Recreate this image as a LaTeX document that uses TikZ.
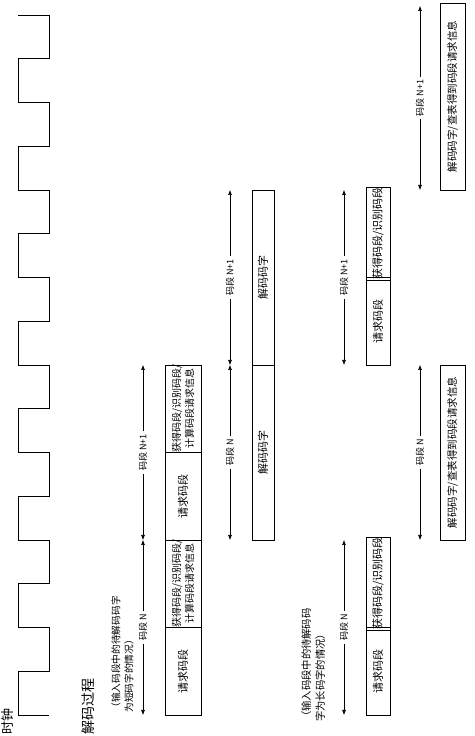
\documentclass[tikz,border=0pt]{standalone}
\usepackage{fontspec}
\setmainfont{Noto Sans CJK SC}
\usetikzlibrary{arrows.meta}

\begin{document}
\begin{tikzpicture}[x=1pt,y=1pt,line width=0.6pt,
  blk/.style={draw,rotate=90,inner sep=0pt,align=center,font=\fontsize{11}{13}\selectfont},
  seg/.style={{Latex[length=5pt,width=4pt]}-{Latex[length=5pt,width=4pt]}},
  seglab/.style={fill=white,rotate=90,inner sep=3pt,font=\fontsize{9}{10}\selectfont},
  note/.style={rotate=90,inner sep=0pt,align=left,font=\fontsize{9.7}{13}\selectfont}]
\useasboundingbox (0,0) rectangle (474,736);
% Drawing clock
\draw (18,721) \foreach \k in {0,...,7} { -- ++(31,0) -- ++(0,-43.75) -- ++(-31,0) -- ++(0,-43.75) } -- ++(31,0);
\node[rotate=90,anchor=west,inner sep=0pt,font=\fontsize{13}{15}\selectfont] (clk) at (8,1) {时钟};
\node[rotate=90,anchor=west,inner sep=0pt,font=\fontsize{14}{16}\selectfont] (title) at (88,1) {解码过程};
% Short codeword case: fetch column
\node[note,anchor=north west] (note1) at (111,23) {（输入码段中的待解码码字\\为短码字的情况）};
\node[blk,minimum width=87.5pt,minimum height=36pt] (c1a) at (183,64.75) {请求码段};
\node[blk,minimum width=87.5pt,minimum height=36pt,font=\fontsize{10}{13}\selectfont] (c1b) at (183,152.25) {获得码段/识别码段/\\计算码段请求信息};
\node[blk,minimum width=87.5pt,minimum height=36pt] (c1c) at (183,239.75) {请求码段};
\node[blk,minimum width=87.5pt,minimum height=36pt,font=\fontsize{10}{13}\selectfont] (c1d) at (183,327.25) {获得码段/识别码段/\\计算码段请求信息};
\coordinate (p1a) at (143,21);
\coordinate (p1b) at (143,196);
\coordinate (p1c) at (143,371);
\draw[seg] (p1a) -- node[seglab] {码段 N} (p1b);
\draw[seg] (p1b) -- node[seglab] {码段 N+1} (p1c);
% Short codeword case: decode column
\node[blk,minimum width=175pt,minimum height=22pt] (c2a) at (263,283.5) {解码码字};
\node[blk,minimum width=175pt,minimum height=22pt] (c2b) at (263,458.5) {解码码字};
\coordinate (p2a) at (230,196);
\coordinate (p2b) at (230,371);
\coordinate (p2c) at (230,546);
\draw[seg] (p2a) -- node[seglab] {码段 N} (p2b);
\draw[seg] (p2b) -- node[seglab] {码段 N+1} (p2c);
% Long codeword case: fetch column
\node[note,anchor=north west,font=\fontsize{10.3}{14}\selectfont] (note2) at (301,14) {（输入码段中的待解码码\\字为长码字的情况）};
\node[blk,minimum width=87.5pt,minimum height=24pt] (c3a) at (378,64.75) {请求码段};
\node[blk,minimum width=87.5pt,minimum height=24pt] (c3b) at (378,152.25) {获得码段/识别码段};
\node[blk,minimum width=87.5pt,minimum height=24pt] (c3c) at (378,414.75) {请求码段};
\node[blk,minimum width=87.5pt,minimum height=24pt] (c3d) at (378,502.25) {获得码段/识别码段};
\coordinate (p3a) at (344,21);
\coordinate (p3b) at (344,196);
\coordinate (p3c) at (344,371);
\coordinate (p3d) at (344,546);
\draw[seg] (p3a) -- node[seglab] {码段 N} (p3b);
\draw[seg] (p3c) -- node[seglab] {码段 N+1} (p3d);
% Long codeword case: decode column
\node[blk,minimum width=175pt,minimum height=25pt,font=\fontsize{10.5}{13}\selectfont] (c4a) at (452.5,283.5) {解码码字/查表得到码段请求信息};
\node[blk,minimum width=187pt,minimum height=25pt,font=\fontsize{10.5}{13}\selectfont] (c4b) at (452.5,639.5) {解码码字/查表得到码段请求信息};
\coordinate (p4a) at (420,196);
\coordinate (p4b) at (420,371);
\coordinate (p4c) at (420,546);
\coordinate (p4d) at (420,730);
\draw[seg] (p4a) -- node[seglab] {码段 N} (p4b);
\draw[seg] (p4c) -- node[seglab] {码段 N+1} (p4d);
\end{tikzpicture}
\end{document}
